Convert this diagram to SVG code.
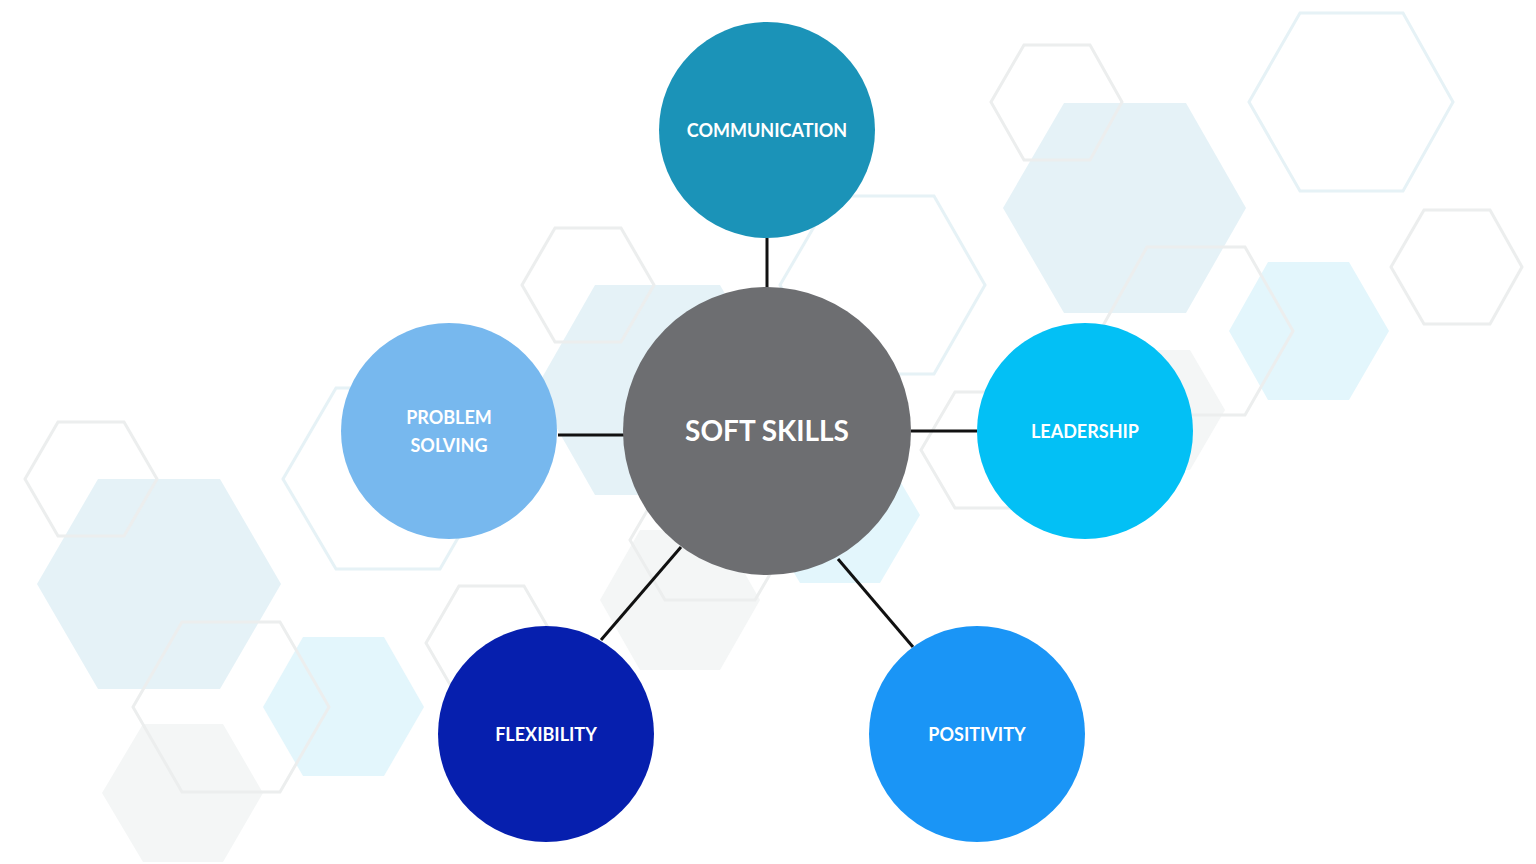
<svg xmlns="http://www.w3.org/2000/svg" width="1536" height="864" viewBox="0 0 1536 864">
<style>
.fb{fill:#e5f2f7}.fc{fill:#e3f6fc}.fg{fill:#f4f6f6}
.ob{fill:none;stroke:#e6f2f6;stroke-width:3}.og{fill:none;stroke:#eceeee;stroke-width:3}
.t{fill:#fff;font-family:Lato,"Open Sans",sans-serif;font-weight:bold;text-anchor:middle}
.c line{stroke:#111;stroke-width:3}
</style>
<rect width="1536" height="864" fill="#fff"/>
<g id="bg">
<polygon class="fb" points="1003,208 1064,103 1186,103 1246,208 1186,313 1064,313"/>
<polygon class="fb" points="37,584 98,479 220,479 281,584 220,689 98,689"/>
<polygon class="fb" points="535,390 595,285 720,285 780,390 720,495 595,495"/>
<polygon class="fc" points="1229,331 1268,262 1349,262 1389,331 1349,400 1268,400"/>
<polygon class="fc" points="263,707 303,637 384,637 424,707 384,776 303,776"/>
<polygon class="fc" points="760,515 800,447 880,447 920,515 880,583 800,583"/>
<polygon class="fg" points="102,793 143,724 223,724 263,793 223,862 143,862"/>
<polygon class="fg" points="600,600 640,530 720,530 760,600 720,670 640,670"/>
<polygon class="fg" points="1110,410 1145,350 1190,350 1225,410 1190,470 1145,470"/>
<polygon class="ob" points="1249,102 1300,13 1403,13 1453,102 1403,191 1300,191"/>
<polygon class="og" points="1391,267 1424,210 1490,210 1522,267 1490,324 1424,324"/>
<polygon class="og" points="991,102 1024,45 1090,45 1122,102 1090,160 1024,160"/>
<polygon class="og" points="1100,331 1147,247 1245,247 1293,331 1245,415 1147,415"/>
<polygon class="ob" points="780,285 832,196 934,196 985,285 934,374 832,374"/>
<polygon class="og" points="522,285 555,228 621,228 654,285 621,342 555,342"/>
<polygon class="ob" points="283,479 336,388 440,388 492,479 440,569 336,569"/>
<polygon class="og" points="25,479 58,422 124,422 157,479 124,536 58,536"/>
<polygon class="og" points="133,707 182,622 280,622 329,707 280,792 182,792"/>
<polygon class="og" points="426,643 459,586 524,586 557,643 524,700 459,700"/>
<polygon class="og" points="630,540 665,480 755,480 790,540 755,600 665,600"/>
<polygon class="og" points="921,450 955,392 1020,392 1054,450 1020,508 955,508"/>
</g>
<g class="c" id="connectors">
<line x1="767" y1="238" x2="767" y2="288"/>
<line x1="558" y1="435" x2="624" y2="435"/>
<line x1="911" y1="431" x2="977" y2="431"/>
<line x1="681" y1="547" x2="601" y2="640"/>
<line x1="838" y1="559" x2="913" y2="647"/>
</g>
<g id="communication"><circle cx="767" cy="130" r="108" fill="#1b93b8"/><text class="t" x="767" y="137" font-size="18">COMMUNICATION</text></g>
<g id="problem"><circle cx="449" cy="431" r="108" fill="#77b8ee"/><text class="t" x="449" y="424" font-size="18">PROBLEM</text><text class="t" x="449" y="452" font-size="18">SOLVING</text></g>
<g id="leadership"><circle cx="1085" cy="431" r="108" fill="#03c0f5"/><text class="t" x="1085" y="438" font-size="18">LEADERSHIP</text></g>
<g id="flexibility"><circle cx="546" cy="734" r="108" fill="#061fae"/><text class="t" x="546" y="741" font-size="18">FLEXIBILITY</text></g>
<g id="positivity"><circle cx="977" cy="734" r="108" fill="#1a95f6"/><text class="t" x="977" y="741" font-size="18">POSITIVITY</text></g>
<g id="softskills"><circle cx="767" cy="431" r="144" fill="#6d6e71"/><text class="t" x="767" y="441" font-size="28">SOFT SKILLS</text></g>
</svg>
